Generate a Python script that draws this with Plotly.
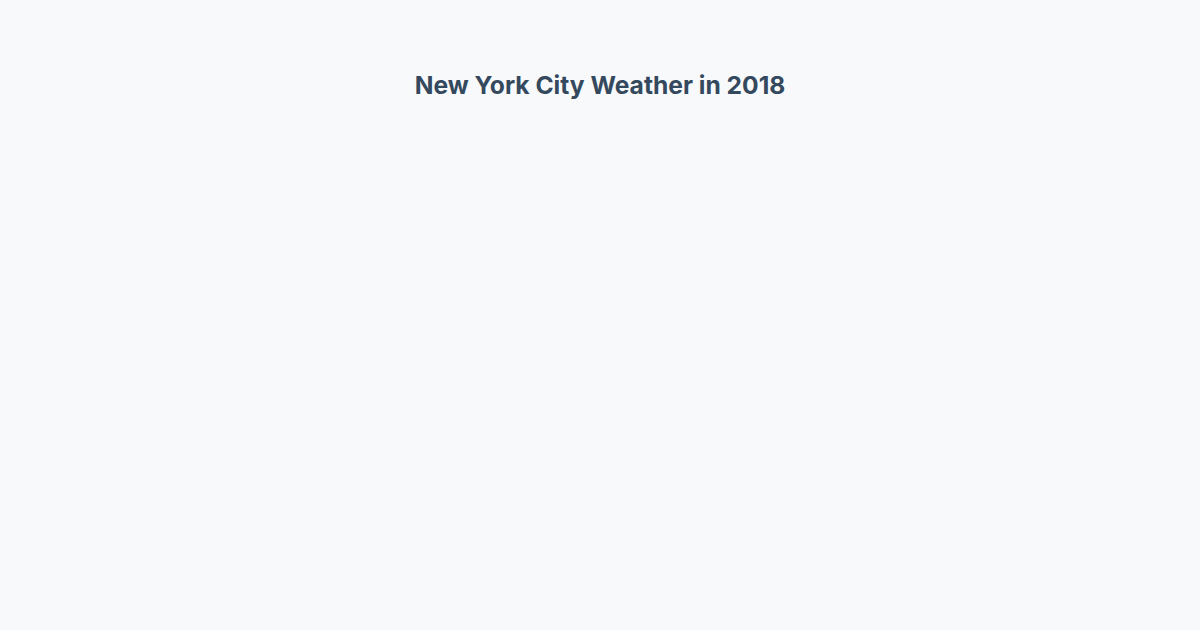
import plotly.graph_objects as go

# the reference shows only the title: no marks are drawn
dates = []
temperatures = []

fig = go.Figure()
fig.add_trace(go.Scatter(x=dates, y=temperatures, mode='lines', showlegend=False))
fig.update_layout(
    title=dict(text='<b>New York City Weather in 2018</b>', x=0.5, xanchor='center',
               y=0.865, yanchor='middle', font=dict(family='Inter', size=24.6, color='#34495e')),
    width=1200, height=630,
    paper_bgcolor='#f8f9fa', plot_bgcolor='#f8f9fa',
    xaxis=dict(visible=False), yaxis=dict(visible=False),
    margin=dict(l=60, r=60, t=140, b=60),
)
fig.write_html("out.html", config={'displayModeBar': False},
               post_script="document.body.style.margin='0';document.body.style.background='#f8f9fa';")
